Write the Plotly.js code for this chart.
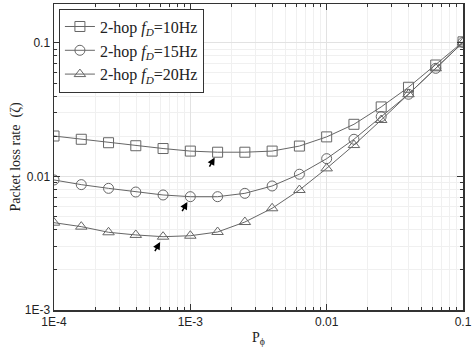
<!DOCTYPE html>
<html><head><meta charset="utf-8">
<script src="https://cdn.plot.ly/plotly-3.0.1.min.js"></script>
<style>html,body{margin:0;padding:0;background:#fff}#c{width:474px;height:351px}</style>
</head><body><div id="c"></div>
<script>
const pPhi = [1e-4,1.585e-4,2.512e-4,3.981e-4,6.31e-4,1e-3,1.585e-3,2.512e-3,3.981e-3,6.31e-3,1e-2,1.585e-2,2.512e-2,3.981e-2,6.31e-2,1e-1];
const loss10 = [0.0201,0.0190,0.0179,0.0170,0.0162,0.0155,0.0152,0.0152,0.0155,0.0169,0.0198,0.0246,0.0332,0.0466,0.0684,0.102];
const loss15 = [0.00942,0.00869,0.00815,0.00765,0.00727,0.00706,0.00706,0.00748,0.00849,0.0104,0.0136,0.0190,0.0281,0.0413,0.0646,0.101];
const loss20 = [0.00451,0.00421,0.00382,0.00365,0.00354,0.00360,0.00384,0.00456,0.00578,0.00792,0.0115,0.0172,0.0265,0.0413,0.0646,0.101];
const seriesNames = ['2-hop <i>f</i><sub><i>D</i></sub>=10Hz','2-hop <i>f</i><sub><i>D</i></sub>=15Hz','2-hop <i>f</i><sub><i>D</i></sub>=20Hz'];
const xTickVals = [1e-4,1e-3,1e-2,1e-1];
const xTickText = ['1E-4','1E-3','0.01','0.1'];
const yTickVals = [1e-3,1e-2,1e-1];
const yTickText = ['1E-3','0.01','0.1'];

const symbols = ['square-open','circle-open','triangle-up-open'];
const ys = [loss10, loss15, loss20];
const traces = ys.map((y,i)=>({
  x: pPhi, y: y, name: seriesNames[i], mode:'lines+markers', type:'scatter',
  line:{color:'#666', width:1},
  marker:{symbol:symbols[i], size:10, color:'#666', line:{width:1}}
}));

const annotations = ys.map(y=>{
  let mi = 0; y.forEach((v,j)=>{ if(v < y[mi]) mi=j; });
  return {x: Math.log10(pPhi[mi]), y: Math.log10(y[mi]), xref:'x', yref:'y', text:'', showarrow:true,
    arrowhead:2, arrowsize:1, arrowwidth:1.5, arrowcolor:'#000', ax:-9, ay:16, standoff:6};
});

const axisCommon = {
  type:'log', showline:true, linecolor:'#333', linewidth:1.5, mirror:'allticks',
  ticks:'inside', ticklen:6, tickcolor:'#333', showgrid:true, gridcolor:'#e2e2e2', zeroline:false,
  tickfont:{family:'Liberation Sans, Arial', size:12, color:'#222'},
  minor:{dtick:'D1', ticks:'inside', ticklen:3, tickcolor:'#333', showgrid:true, gridcolor:'#f0f0f0'}
};

const layout = {
  width:474, height:351, margin:{l:54, r:11, t:4, b:41},
  paper_bgcolor:'#fff', plot_bgcolor:'#fff', showlegend:true,
  xaxis: Object.assign({}, axisCommon, {range:[-4,-1], tickvals:xTickVals, ticktext:xTickText,
    title:{text:'P<sub>ϕ</sub>', font:{family:'Liberation Serif, Times New Roman', size:14, color:'#222'}, standoff:4}}),
  yaxis: Object.assign({}, axisCommon, {range:[-3,-0.708], tickvals:yTickVals, ticktext:yTickText,
    title:{text:'Packet loss rate  (ζ)', font:{family:'Liberation Serif, Times New Roman', size:14, color:'#222'}, standoff:1}}),
  legend:{x:0.012, y:0.985, xanchor:'left', yanchor:'top', bgcolor:'#fff', bordercolor:'#333', borderwidth:1,
    font:{family:'Liberation Serif, Times New Roman', size:16, color:'#222'}, tracegroupgap:0, itemwidth:30},
  annotations: annotations
};
Plotly.newPlot('c', traces, layout, {staticPlot:true});
</script></body></html>
